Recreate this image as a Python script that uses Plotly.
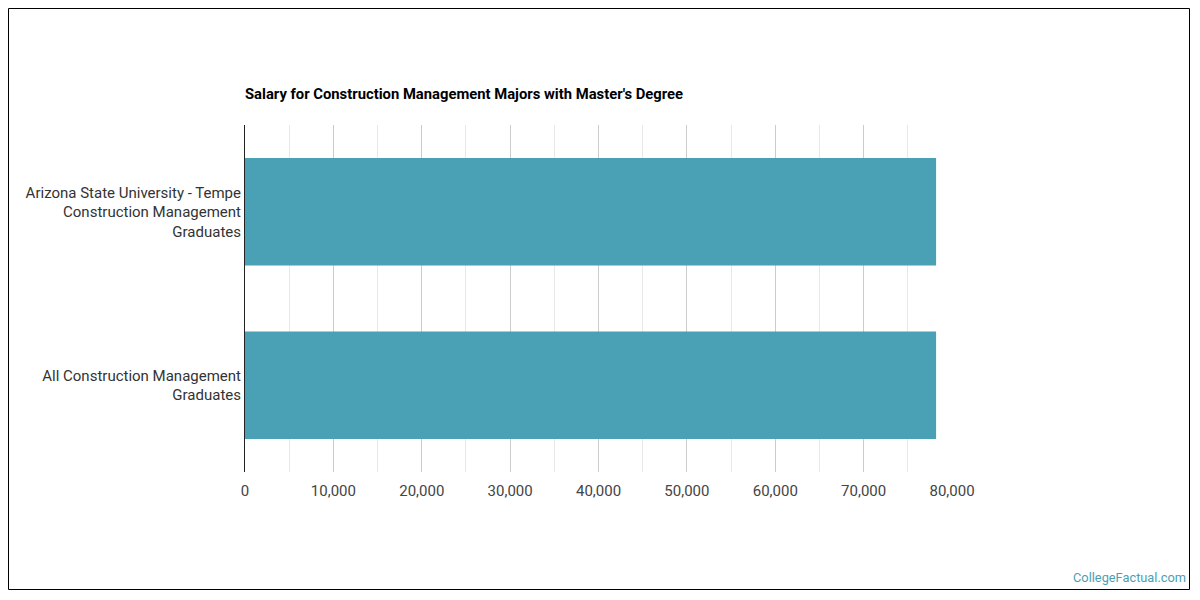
import plotly.graph_objects as go

categories = [
    "All Construction Management<br>Graduates",
    "Arizona State University - Tempe<br>Construction Management<br>Graduates",
]
salaries = [78200, 78200]
x_ticks = [0, 10000, 20000, 30000, 40000, 50000, 60000, 70000, 80000]
x_tick_labels = ["0", "10,000", "20,000", "30,000", "40,000", "50,000", "60,000", "70,000", "80,000"]

# page has an 8px body margin; figure sized to fit inside
OFF = 8
W, H = 1184, 584
L = 245 - OFF
R = W - (952 - OFF)
T = 125 - OFF
B = H - (472 - OFF)
pw, ph = W - L - R, H - T - B

def px_to_paper_x(px):
    return (px - OFF - L) / pw

def px_to_paper_y(py):
    return (H - B - (py - OFF)) / ph

fig = go.Figure()
fig.add_trace(go.Bar(
    y=categories, x=salaries, orientation="h",
    marker=dict(color="#4aa0b4", line=dict(width=0)),
    hoverinfo="x+y",
))

fig.update_layout(
    width=W, height=H,
    margin=dict(l=L, r=R, t=T, b=B, autoexpand=False),
    paper_bgcolor="white", plot_bgcolor="white",
    font=dict(family="Roboto", size=15, color="#333333"),
    bargap=0.38,
    showlegend=False,
    xaxis=dict(
        range=[0, 80000], tickvals=x_ticks, ticktext=x_tick_labels,
        showgrid=True, gridcolor="#cccccc", gridwidth=1,
        minor=dict(dtick=5000, showgrid=True, gridcolor="#e8e8e8", gridwidth=1),
        zeroline=False, showline=False, ticks="", ticklabelstandoff=8,
        tickfont=dict(size=15, color="#444444"),
        fixedrange=True,
    ),
    yaxis=dict(
        showgrid=False, zeroline=False, showline=True, linecolor="#222222", linewidth=1,
        ticks="", ticklabelstandoff=0,
        tickfont=dict(size=15, color="#333333"),
        fixedrange=True,
    ),
    shapes=[dict(
        type="rect", xref="paper", yref="paper",
        x0=px_to_paper_x(8.5), x1=px_to_paper_x(1189.5),
        y0=px_to_paper_y(589.5), y1=px_to_paper_y(8.5),
        line=dict(color="#000000", width=1), fillcolor="rgba(0,0,0,0)",
        layer="above",
    )],
    annotations=[
        dict(
            text="<b>Salary for Construction Management Majors with Master's Degree</b>",
            xref="paper", yref="paper", x=px_to_paper_x(243), y=px_to_paper_y(94),
            xanchor="left", yanchor="middle", showarrow=False,
            font=dict(family="Roboto", size=14.8, color="#000000"),
        ),
        dict(
            text="CollegeFactual.com",
            xref="paper", yref="paper", x=px_to_paper_x(1188), y=px_to_paper_y(577),
            xanchor="right", yanchor="middle", showarrow=False,
            font=dict(family="Roboto", size=12.8, color="#4a9fb5"),
        ),
    ],
)

fig.write_html("out.html")
